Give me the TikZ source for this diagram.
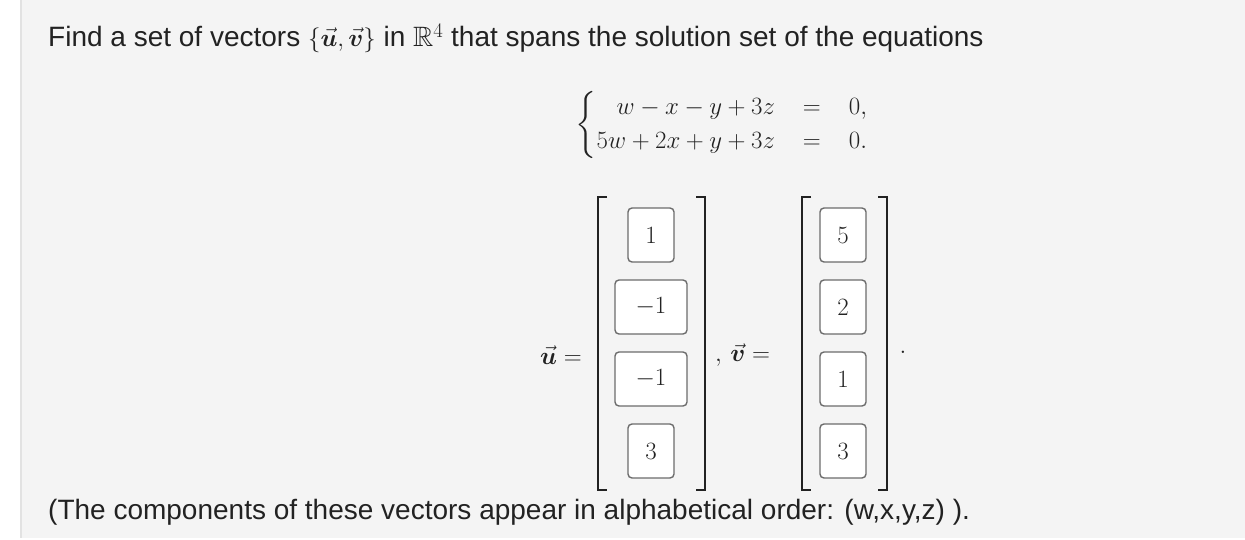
\documentclass[tikz,border=0pt]{standalone}
\usepackage{amsmath,amssymb,bm}
\usepackage{fontspec}
\setmainfont{Liberation Sans}
\definecolor{bg}{HTML}{F4F4F4}
\definecolor{edge}{HTML}{E2E2E2}
\definecolor{txt}{HTML}{222222}
\tikzset{
  ans/.style={draw=gray!85!black, line width=1.4pt, fill=white, rounded corners=4pt, minimum height=54pt, inner xsep=8pt, font=\fontsize{28}{28}\selectfont, text=txt},
  lbl/.style={font=\fontsize{28}{32}\selectfont, text=txt, inner sep=0pt},
  mth/.style={font=\fontsize{28}{32}\selectfont, text=txt, inner sep=0pt},
  brk/.style={line width=2.5pt, draw=txt}
}
\begin{document}
\begin{tikzpicture}[x=1pt,y=-1pt]
\useasboundingbox (0,0) rectangle (1245,540);
\fill[white] (0,0) rectangle (1245,540);
\fill[bg] (20,0) rectangle (1245,538);
\draw[edge, line width=2pt] (21,0) -- (21,538);
\node[lbl, anchor=west] (title) at (48,38) {Find a set of vectors $\{\vec{\bm u},\vec{\bm v}\}$ in $\mathbb{R}^4$ that spans the solution set of the equations};
\node[mth] (sys) at (722,125) {$\left\{\begin{array}{@{}r@{\quad}c@{\quad}l@{}} w-x-y+3z & = & 0,\\[2pt] 5w+2x+y+3z & = & 0.\end{array}\right.$};
\node[mth, anchor=east] (ulab) at (582,355) {$\vec{\bm u}=$};
\draw[brk] (607,197) -- (598,197) -- (598,490) -- (607,490);
\draw[brk] (696,197) -- (705,197) -- (705,490) -- (696,490);
\node[ans, minimum width=46pt] (u1) at (651,235) {$1$};
\node[ans, minimum width=72pt] (u2) at (651,307) {$-1$};
\node[ans, minimum width=72pt] (u3) at (651,379) {$-1$};
\node[ans, minimum width=46pt] (u4) at (651,451) {$3$};
\node[mth, anchor=west] (vlab) at (715,355) {$,\,\vec{\bm v}=$};
\draw[brk] (811,197) -- (802,197) -- (802,490) -- (811,490);
\draw[brk] (878,197) -- (887,197) -- (887,490) -- (878,490);
\node[ans, minimum width=46pt] (v1) at (843,235) {$5$};
\node[ans, minimum width=46pt] (v2) at (843,307) {$2$};
\node[ans, minimum width=46pt] (v3) at (843,379) {$1$};
\node[ans, minimum width=46pt] (v4) at (843,451) {$3$};
\node[mth] (dot) at (903,352) {$.$};
\node[lbl, anchor=west] (note) at (48,512) {(The components of these vectors appear in alphabetical order: (w,x,y,z) ).};
\end{tikzpicture}
\end{document}
